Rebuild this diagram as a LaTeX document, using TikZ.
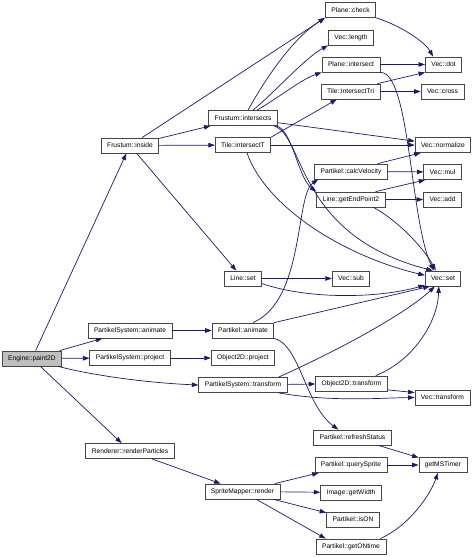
\documentclass[tikz,border=0pt]{standalone}
\usepackage{fontspec}
\setmainfont{Liberation Sans}
\usetikzlibrary{arrows.meta}
\definecolor{cgedge}{RGB}{25,25,112}
\definecolor{cgborder}{RGB}{70,70,70}
\definecolor{cgroot}{RGB}{191,191,191}
\tikzstyle{func} = [rectangle, draw=cgborder, line width=0.8bp, fill=white, minimum height=15bp, inner xsep=6bp, inner ysep=0pt, text=black, font=\fontsize{6.7}{8}\selectfont]
\tikzstyle{root} = [func, fill=cgroot]
\tikzstyle{call} = [line width=0.7bp, -{Triangle[length=6.5bp,width=4.5bp]}, color=cgedge]

\begin{document}
\begin{tikzpicture}[x=1bp, y=-1bp]
\useasboundingbox (0,0) rectangle (474,557);
% Call graph, one column per depth
\node (paint) [root] at (32,358.5) {Engine::paint2D};

\node (finside) [func] at (130,145.5) {Frustum::inside};
\node (psanimate) [func] at (130,330.5) {PartikelSystem::animate};
\node (psproject) [func] at (130,358) {PartikelSystem::project};
\node (renderer) [func] at (130,451) {Renderer::renderParticles};

\node (fintersects) [func] at (243,118) {Frustum::intersects};
\node (tileT) [func] at (243,145) {Tile::intersectT};
\node (lineset) [func] at (243,278.5) {Line::set};
\node (panimate) [func] at (243,330.5) {Partikel::animate};
\node (oproject) [func] at (243,358) {Object2D::project};
\node (pstransform) [func] at (243,385) {PartikelSystem::transform};
\node (spriterender) [func] at (242.5,491.5) {SpriteMapper::render};

\node (pcheck) [func] at (350.5,10) {Plane::check};
\node (vlength) [func] at (351,37.5) {Vec::length};
\node (pintersect) [func] at (351,64.5) {Plane::intersect};
\node (tileTri) [func] at (350.5,91.5) {Tile::intersectTri};
\node (calcvel) [func] at (351,171.5) {Partikel::calcVelocity};
\node (endpoint) [func] at (351,199.5) {Line::getEndPoint2};
\node (vsub) [func] at (351,278.5) {Vec::sub};
\node (otransform) [func] at (351.5,383.5) {Object2D::transform};
\node (refresh) [func] at (352.5,437.5) {Partikel::refreshStatus};
\node (query) [func] at (351,465) {Partikel::querySprite};
\node (getwidth) [func] at (351,492.5) {Image::getWidth};
\node (ison) [func] at (353,519.5) {Partikel::isON};
\node (ontime) [func] at (351,546.5) {Partikel::getONtime};

\node (vdot) [func] at (443.5,64.5) {Vec::dot};
\node (vcross) [func] at (442.5,91.5) {Vec::cross};
\node (vnormalize) [func] at (443,145) {Vec::normalize};
\node (vmul) [func] at (442.5,172) {Vec::mul};
\node (vadd) [func] at (442.5,199.5) {Vec::add};
\node (vset) [func] at (443,278.5) {Vec::set};
\node (vtransform) [func] at (442.5,397.5) {Vec::transform};
\node (timer) [func] at (443,465) {getMSTimer};

% Engine::paint2D
\draw[call] (paint) -- (finside);
\draw[call] (paint) -- (psanimate);
\draw[call] (paint) -- (psproject);
\draw[call] ([xshift=-4bp]paint.south east) .. controls (95,376) and (150,383) .. (pstransform.west);
\draw[call] (paint) -- (renderer);

% Frustum::inside
\draw[call] (finside) -- (pcheck.south west);
\draw[call] (finside) -- (fintersects);
\draw[call] (finside) -- (tileT);
\draw[call] (finside) -- (lineset);

% Frustum::intersects
\draw[call] ([xshift=5bp]fintersects.north) .. controls (262,85) and (290,40) .. (pcheck.south west);
\draw[call] ([xshift=10bp]fintersects.north) .. controls (275,92) and (305,58) .. (vlength.south west);
\draw[call] ([xshift=14bp]fintersects.north) .. controls (280,97) and (300,80) .. (pintersect.south west);
\draw[call] (fintersects) -- (vnormalize);
\draw[call] ([xshift=-2bp]fintersects.south east) .. controls (292,128) and (298,178) .. (endpoint.north west);
\draw[call] ([xshift=-4bp]fintersects.south east) .. controls (305,135) and (295,235) .. ([xshift=8bp]vset.north west);

% Tile::intersectT
\draw[call] (tileT.north east) -- (tileTri);
\draw[call] (tileT) -- (vnormalize);
\draw[call] ([xshift=4bp]tileT.south) .. controls (265,205) and (340,255) .. (vset.170);

% Plane::check, Plane::intersect, Tile::intersectTri
\draw[call] (pcheck.south east) .. controls (400,25) and (425,42) .. ([xshift=8bp]vdot.north west);
\draw[call] (pintersect) -- (vdot);
\draw[call] (pintersect.south east) .. controls (410,72) and (410,220) .. ([xshift=9bp]vset.north west);
\draw[call] ([xshift=-3bp]tileTri.north east) -- (vdot.south west);
\draw[call] (tileTri) -- (vcross);

% Partikel::calcVelocity, Line::getEndPoint2, Line::set
\draw[call] ([xshift=-10bp]calcvel.north east) -- ([xshift=6bp]vnormalize.south west);
\draw[call] (calcvel) -- (vmul);
\draw[call] ([xshift=-10bp]endpoint.north east) -- ([xshift=2bp]vmul.south west);
\draw[call] (endpoint) -- (vadd);
\draw[call] ([xshift=-12bp]endpoint.south east) .. controls (400,222) and (425,250) .. ([xshift=11bp]vset.north west);
\draw[call] (lineset) -- (vsub);
\draw[call] (lineset.-15) .. controls (310,300) and (380,298) .. (vset.-160);

% PartikelSystem
\draw[call] (psanimate) -- (panimate);
\draw[call] (psproject) -- (oproject);
\draw[call] (pstransform) -- (otransform);
\draw[call] ([xshift=-9bp]pstransform.south east) .. controls (330,402) and (380,398) .. (vtransform.west);
\draw[call] ([xshift=-9bp]pstransform.north east) .. controls (350,345) and (410,310) .. ([xshift=10bp]vset.south west);

% Partikel::animate, Object2D::transform
\draw[call] ([xshift=10bp]panimate.north) .. controls (305,300) and (295,195) .. ([xshift=4bp]calcvel.south west);
\draw[call] (panimate.north east) -- ([xshift=5bp]vset.south west);
\draw[call] (panimate.south east) .. controls (300,345) and (305,405) .. ([xshift=25bp]refresh.north west);
\draw[call] (otransform.-10) -- (vtransform.170);
\draw[call] ([xshift=-12bp]otransform.north east) .. controls (415,360) and (438,320) .. ([xshift=14bp]vset.south west);

% Renderer, SpriteMapper and Partikel timing
\draw[call] (renderer) -- (spriterender);
\draw[call] (spriterender) -- (query);
\draw[call] (spriterender) -- (getwidth);
\draw[call] (spriterender) -- (ison);
\draw[call] ([xshift=14bp]spriterender.south) -- ([xshift=10bp]ontime.north west);
\draw[call] (refresh) -- (timer);
\draw[call] (query) -- (timer);
\draw[call] ([xshift=-6bp]ontime.north east) .. controls (410,525) and (430,495) .. ([xshift=-5bp]timer.south);
\end{tikzpicture}
\end{document}
